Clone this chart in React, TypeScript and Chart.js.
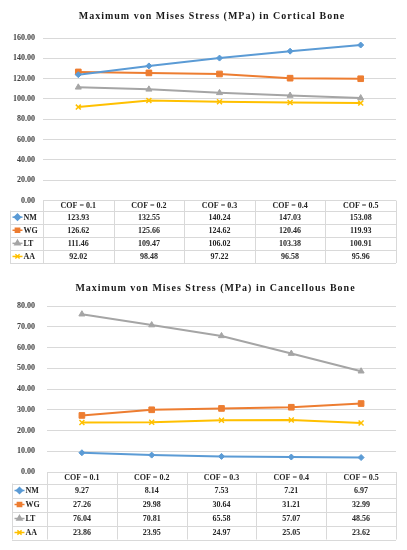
import React, { useEffect, useRef } from "react";
import { Chart, registerables } from "chart.js";
import { drawPoint } from "chart.js/helpers";

Chart.register(...registerables);

// data
const categories = ["COF = 0.1", "COF = 0.2", "COF = 0.3", "COF = 0.4", "COF = 0.5"];
const seriesNames = ["NM", "WG", "LT", "AA"];

const corticalNM = [123.93, 132.55, 140.24, 147.03, 153.08];
const corticalWG = [126.62, 125.66, 124.62, 120.46, 119.93];
const corticalLT = [111.46, 109.47, 106.02, 103.38, 100.91];
const corticalAA = [92.02, 98.48, 97.22, 96.58, 95.96];

const cancellousNM = [9.27, 8.14, 7.53, 7.21, 6.97];
const cancellousWG = [27.26, 29.98, 30.64, 31.21, 32.99];
const cancellousLT = [76.04, 70.81, 65.58, 57.07, 48.56];
const cancellousAA = [23.86, 23.95, 24.97, 25.05, 23.62];

const corticalTicks = { max: 160, step: 20 };
const cancellousTicks = { max: 80, step: 10 };

// styles
const colors = ["#5B9BD5", "#ED7D31", "#A5A5A5", "#FFC000"];
const markers = [
  { pointStyle: "rectRot", radius: 3 },
  { pointStyle: "rect", radius: 4 },
  { pointStyle: "triangle", radius: 3.5 },
  { pointStyle: "crossRot", radius: 3.5 },
];
const FONT = "'Liberation Serif', serif";
const GRID = "#d9d9d9";
const TEXT = "#262626";

type TableLayout = {
  title: string;
  titleX: number;
  titleY: number;
  tableLeft: number;
  headerH: number;
  rowH: number;
};

// draws the title and the Excel-style data table under the plot
const dataTablePlugin = {
  id: "dataTable",
  afterDraw(chart: any, _args: any, opts: TableLayout) {
    const { ctx, chartArea, scales } = chart;
    const x = scales.x;
    const top = chartArea.bottom;
    const headBottom = top + opts.headerH;
    const n = chart.data.datasets.length;
    const tableBottom = headBottom + n * opts.rowH;
    const labels: string[] = chart.data.labels;

    ctx.save();
    // title
    ctx.fillStyle = "#1a1a1a";
    ctx.font = `bold 10px ${FONT}`;
    (ctx as any).letterSpacing = "1px";
    ctx.textAlign = "center";
    ctx.textBaseline = "middle";
    ctx.fillText(opts.title, opts.titleX, opts.titleY);
    (ctx as any).letterSpacing = "0px";

    // table grid
    ctx.strokeStyle = GRID;
    ctx.lineWidth = 1;
    ctx.beginPath();
    for (let i = 0; i <= labels.length; i++) {
      const bx = Math.round(x.left + (i * x.width) / labels.length) + 0.5;
      ctx.moveTo(bx, top);
      ctx.lineTo(bx, tableBottom);
    }
    const lx = Math.round(opts.tableLeft) + 0.5;
    ctx.moveTo(lx, headBottom);
    ctx.lineTo(lx, tableBottom);
    for (let r = 0; r <= n; r++) {
      const ry = Math.round(headBottom + r * opts.rowH) + 0.5;
      ctx.moveTo(opts.tableLeft, ry);
      ctx.lineTo(chartArea.right, ry);
    }
    ctx.stroke();

    ctx.font = `bold 8px ${FONT}`;
    ctx.textBaseline = "middle";

    // header row
    ctx.fillStyle = TEXT;
    ctx.textAlign = "center";
    labels.forEach((lab, i) => {
      ctx.fillText(lab, x.getPixelForValue(i), top + opts.headerH / 2 + 0.5);
    });

    // series rows
    chart.data.datasets.forEach((ds: any, d: number) => {
      const cy = headBottom + (d + 0.5) * opts.rowH;
      ctx.strokeStyle = ds.borderColor;
      ctx.lineWidth = 1.5;
      ctx.beginPath();
      ctx.moveTo(opts.tableLeft + 2.5, cy);
      ctx.lineTo(opts.tableLeft + 12.5, cy);
      ctx.stroke();
      ctx.fillStyle = ds.borderColor;
      drawPoint(
        ctx,
        {
          pointStyle: ds.pointStyle,
          radius: Math.min(ds.pointRadius, 3),
          rotation: 0,
          borderWidth: 1,
        },
        opts.tableLeft + 7.5,
        cy
      );
      ctx.fillStyle = TEXT;
      ctx.textAlign = "left";
      ctx.fillText(ds.label, opts.tableLeft + 13.5, cy + 0.5);
      ctx.textAlign = "center";
      ds.data.forEach((v: number, i: number) => {
        ctx.fillText(v.toFixed(2), x.getPixelForValue(i), cy + 0.5);
      });
    });
    ctx.restore();
  },
};

type BlockProps = {
  series: number[][];
  ticks: { max: number; step: number };
  height: number;
  padTop: number;
  padBottom: number;
  axisW: number;
  layout: TableLayout;
};

const ChartBlock: React.FC<BlockProps> = ({ series, ticks, height, padTop, padBottom, axisW, layout }) => {
  const canvasRef = useRef<HTMLCanvasElement | null>(null);
  const chartRef = useRef<Chart | null>(null);

  useEffect(() => {
    const ctx = canvasRef.current?.getContext("2d");
    if (!ctx) return;
    chartRef.current?.destroy();

    const tableH = layout.headerH + series.length * layout.rowH;

    chartRef.current = new Chart(ctx, {
      type: "line",
      data: {
        labels: categories,
        datasets: series.map((values, i) => ({
          label: seriesNames[i],
          data: values,
          borderColor: colors[i],
          backgroundColor: colors[i],
          borderWidth: 2,
          pointStyle: markers[i].pointStyle as any,
          pointRadius: markers[i].radius,
          pointBorderWidth: i === 3 ? 1.5 : 1,
          pointBackgroundColor: colors[i],
          pointBorderColor: colors[i],
          tension: 0,
        })),
      },
      options: {
        animation: false,
        responsive: true,
        maintainAspectRatio: false,
        layout: { padding: { top: padTop, right: 11, bottom: padBottom, left: 0 } },
        plugins: {
          legend: { display: false },
          title: { display: false },
          tooltip: { enabled: false },
          dataTable: layout as any,
        } as any,
        scales: {
          x: {
            type: "category",
            offset: true,
            grid: { display: false },
            border: { display: false },
            ticks: { display: false },
            afterFit: (scale: any) => {
              scale.height = tableH;
            },
          },
          y: {
            min: 0,
            max: ticks.max,
            grid: { color: GRID, drawTicks: false },
            border: { display: false },
            ticks: {
              stepSize: ticks.step,
              color: "#404040",
              font: { family: FONT, size: 8, weight: "bold" },
              padding: axisW - 35,
              callback: (v: any) => Number(v).toFixed(2),
            },
            afterFit: (scale: any) => {
              scale.width = axisW;
            },
          },
        },
      },
      plugins: [dataTablePlugin as any],
    });

    return () => {
      chartRef.current?.destroy();
      chartRef.current = null;
    };
  }, []);

  return (
    <div style={{ position: "relative", width: 407, height }}>
      <canvas ref={canvasRef}></canvas>
    </div>
  );
};

const App: React.FC = () => {
  useEffect(() => {
    document.body.style.margin = "0";
    document.body.style.background = "#ffffff";
  }, []);

  return (
    <div style={{ width: 407, height: 550, background: "#fff" }}>
      <ChartBlock
        series={[corticalNM, corticalWG, corticalLT, corticalAA]}
        ticks={corticalTicks}
        height={270}
        padTop={38}
        padBottom={7}
        axisW={43}
        layout={{
          title: "Maximum von Mises Stress (MPa) in Cortical Bone",
          titleX: 212,
          titleY: 16,
          tableLeft: 10,
          headerH: 10,
          rowH: 13.1,
        }}
      />
      <ChartBlock
        series={[cancellousNM, cancellousWG, cancellousLT, cancellousAA]}
        ticks={cancellousTicks}
        height={280}
        padTop={36}
        padBottom={10.5}
        axisW={47}
        layout={{
          title: "Maximum von Mises Stress (MPa) in Cancellous Bone",
          titleX: 215.5,
          titleY: 18,
          tableLeft: 12,
          headerH: 11.5,
          rowH: 14,
        }}
      />
    </div>
  );
};

export default App;
